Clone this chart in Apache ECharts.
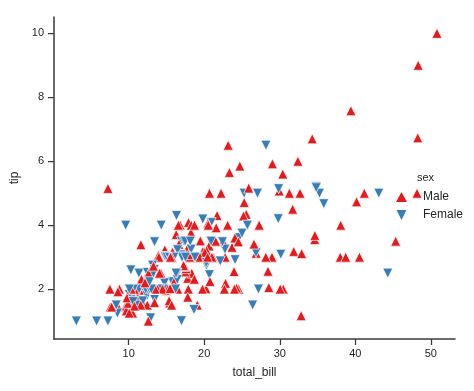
<!DOCTYPE html>
<html><head><meta charset="utf-8">
<script src="https://cdn.jsdelivr.net/npm/echarts@6/dist/echarts.min.js"></script>
<style>html,body{margin:0;padding:0;background:#fff}#c{width:474px;height:391px}</style>
</head><body><div id="c"></div>
<script>
const totalBill = [16.99,10.34,21.01,23.68,24.59,25.29,8.77,26.88,15.04,14.78,10.27,35.26,15.42,18.43,14.83,21.58,10.33,16.29,16.97,20.65,17.92,20.29,15.77,39.42,19.82,17.81,13.37,12.69,21.7,19.65,9.55,18.35,15.06,20.69,17.78,24.06,16.31,16.93,18.69,31.27,16.04,17.46,13.94,9.68,30.4,18.29,22.23,32.4,28.55,18.04,12.54,10.29,34.81,9.94,25.56,19.49,38.01,26.41,11.24,48.27,20.29,13.81,11.02,18.29,17.59,20.08,16.45,3.07,20.23,15.01,12.02,17.07,26.86,25.28,14.73,10.51,17.92,27.2,22.76,17.29,19.44,16.66,10.07,32.68,15.98,34.83,13.03,18.28,24.71,21.16,28.97,22.49,5.75,16.32,22.75,40.17,27.28,12.03,21.01,12.46,11.35,15.38,44.3,22.42,20.92,15.36,20.49,25.21,18.24,14.31,14.0,7.25,38.07,23.95,25.71,17.31,29.93,10.65,12.43,24.08,11.69,13.42,14.26,15.95,12.48,29.8,8.52,14.52,11.38,22.82,19.08,20.27,11.17,12.26,18.26,8.51,10.33,14.15,16.0,13.16,17.47,34.3,41.19,27.05,16.43,8.35,18.64,11.87,9.78,7.51,14.07,13.13,17.26,24.55,19.77,29.85,48.17,25.0,13.39,16.49,21.5,12.66,16.21,13.81,17.51,24.52,20.76,31.71,10.59,10.63,50.81,15.81,7.25,31.85,16.82,32.9,17.89,14.48,9.6,34.63,34.65,23.33,45.35,23.17,40.55,20.69,20.9,30.46,18.15,23.1,15.69,19.81,28.44,15.48,16.58,7.56,10.34,43.11,13.0,13.51,18.71,12.74,13.0,16.4,20.53,16.47,26.59,38.73,24.27,12.76,30.06,25.89,48.33,13.27,28.17,12.9,28.15,11.59,7.74,30.14,12.16,13.42,8.58,15.98,13.42,16.27,10.09,20.45,13.28,22.12,24.01,15.69,11.61,10.77,15.53,10.07,12.6,32.83,35.83,29.03,27.18,22.67,17.82,18.78];
const tips = [1.01,1.66,3.5,3.31,3.61,4.71,2.0,3.12,1.96,3.23,1.71,5.0,1.57,3.0,3.02,3.92,1.67,3.71,3.5,3.35,4.08,2.75,2.23,7.58,3.18,2.34,2.0,2.0,4.3,3.0,1.45,2.5,3.0,2.45,3.27,3.6,2.0,3.07,2.31,5.0,2.24,2.54,3.06,1.32,5.6,3.0,5.0,6.0,2.05,3.0,2.5,2.6,5.2,1.56,4.34,3.51,3.0,1.5,1.76,6.73,3.21,2.0,1.98,3.76,2.64,3.15,2.47,1.0,2.01,2.09,1.97,3.0,3.14,5.0,2.2,1.25,3.08,4.0,3.0,2.71,3.0,3.4,1.83,5.0,2.03,5.17,2.0,4.0,5.85,3.0,3.0,3.5,1.0,4.3,3.25,4.73,4.0,1.5,3.0,1.5,2.5,3.0,2.5,3.48,4.08,1.64,4.06,4.29,3.76,4.0,3.0,1.0,4.0,2.55,4.0,3.5,5.07,1.5,1.8,2.92,2.31,1.68,2.5,2.0,2.52,4.2,1.48,2.0,2.0,2.18,1.5,2.83,1.5,2.0,3.25,1.25,2.0,2.0,2.0,2.75,3.5,6.7,5.0,5.0,2.3,1.5,1.36,1.63,1.73,2.0,2.5,2.0,2.74,2.0,2.0,5.14,5.0,3.75,2.61,2.0,3.5,2.5,2.0,2.0,3.0,3.48,2.24,4.5,1.61,2.0,10.0,3.16,5.15,3.18,4.0,3.11,2.0,2.0,4.0,3.55,3.68,5.65,3.5,6.5,3.0,5.0,3.5,2.0,3.5,4.0,1.5,4.19,2.56,2.02,4.0,1.44,2.0,5.0,2.0,2.0,4.0,2.01,2.0,2.5,4.0,3.23,3.41,3.0,2.03,2.23,2.0,5.16,9.0,2.5,6.5,1.1,3.0,1.5,1.44,3.09,2.2,3.48,1.92,3.0,1.58,2.5,2.0,3.0,2.72,2.88,2.0,3.0,3.39,1.47,3.0,1.25,1.0,1.17,4.67,5.92,2.0,2.0,1.75,3.0];
const sex = [
  "F","M","M","M","F","M","M","M","M","M",
  "M","F","M","M","F","M","F","M","F","M",
  "M","F","F","M","M","M","M","M","M","F",
  "M","M","F","F","M","M","M","F","M","M",
  "M","M","M","M","M","M","M","M","M","M",
  "M","F","F","M","M","M","M","F","M","M",
  "M","M","M","M","M","M","F","F","M","M",
  "M","F","F","F","F","M","M","M","M","M",
  "M","M","F","M","M","F","M","M","M","M",
  "M","M","F","F","F","M","M","M","M","M",
  "F","F","F","F","F","M","M","M","M","F",
  "M","F","M","M","F","F","M","F","F","F",
  "M","F","M","M","F","F","M","F","F","M",
  "M","F","F","F","F","F","F","F","M","F",
  "F","M","M","F","F","F","F","F","M","M",
  "M","M","M","M","M","F","M","F","F","M",
  "M","M","F","M","F","M","M","M","F","F",
  "M","M","M","M","M","M","M","M","F","M",
  "M","M","M","M","M","M","F","M","F","M",
  "M","F","M","M","M","M","M","F","F","M",
  "M","F","F","F","M","F","M","M","M","F",
  "M","M","M","F","F","F","M","M","M","F",
  "M","F","M","F","M","F","F","M","M","F",
  "M","M","M","M","M","M","M","M","F","M",
  "F","M","M","F"];
const sexLevels = ["Male","Female"];
const xTicks = [10,20,30,40,50];
const yTicks = [2,4,6,8,10];

const colors = {Male:"#e41a1c", Female:"#377eb8"};
const downTri = "path://M0,0L2,0L1,2Z";
const symbols = {Male:"triangle", Female:downTri};
const pts = totalBill.map((x,i)=>{
  const s = sex[i]==="M" ? sexLevels[0] : sexLevels[1];
  return {value:[x, tips[i]], symbol:symbols[s], itemStyle:{color:colors[s]}};
});
const font = "Liberation Sans";
const txt = "#262626";
const chart = echarts.init(document.getElementById("c"), null, {renderer:"canvas"});
chart.setOption({
  animation:false,
  backgroundColor:"#fff",
  grid:{left:54, top:17, right:19, bottom:52, containLabel:false},
  xAxis:{type:"value", min:0.11, max:53.2, name:"total_bill", nameLocation:"middle", nameGap:28,
    nameTextStyle:{fontFamily:font, fontSize:12, color:txt},
    axisLine:{show:true, onZero:false, lineStyle:{color:"#3a3a3a", width:1.5}},
    axisTick:{show:true, length:6, customValues:xTicks, lineStyle:{color:"#3a3a3a", width:1.25}},
    axisLabel:{customValues:xTicks, fontFamily:font, fontSize:11, color:txt, margin:9},
    splitLine:{show:false}},
  yAxis:{type:"value", min:0.44, max:10.51, name:"tip", nameLocation:"middle", nameGap:33, nameRotate:90,
    nameTextStyle:{fontFamily:font, fontSize:12, color:txt},
    axisLine:{show:true, onZero:false, lineStyle:{color:"#3a3a3a", width:1.5}},
    axisTick:{show:true, length:6, customValues:yTicks, lineStyle:{color:"#3a3a3a", width:1.25}},
    axisLabel:{customValues:yTicks, fontFamily:font, fontSize:11, color:txt, margin:10},
    splitLine:{show:false}},
  legend:{orient:"vertical", left:391, top:186, itemWidth:11, itemHeight:10, itemGap:6,
    data:[{name:sexLevels[0], icon:"triangle"},{name:sexLevels[1], icon:downTri}],
    itemStyle:{opacity:1},
    textStyle:{fontFamily:font, fontSize:12, color:txt, padding:[0,0,0,11]}},
  graphic:[{type:"text", left:417, top:172, style:{text:"sex", fontFamily:font, fontSize:11, fill:txt}}],
  series:[
    {type:"scatter", name:"all", symbolSize:10, data:pts, itemStyle:{borderColor:"#fff", borderWidth:0.7, opacity:1}, z:3},
    {type:"scatter", name:sexLevels[0], data:[], itemStyle:{color:colors.Male, opacity:1}},
    {type:"scatter", name:sexLevels[1], data:[], itemStyle:{color:colors.Female, opacity:1}}
  ]
});
</script></body></html>
